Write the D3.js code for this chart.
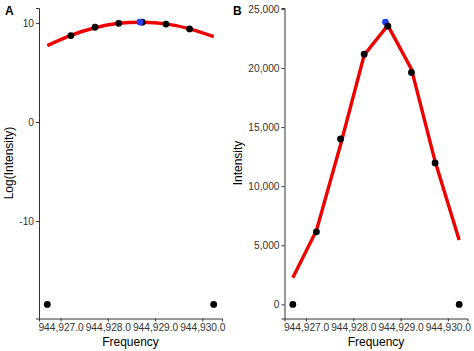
<!DOCTYPE html>
<html>
<head>
<meta charset="utf-8">
<script src="https://cdn.jsdelivr.net/npm/d3@7"></script>
<style>
  body { margin: 0; background: #fff; }
  text { font-family: "Liberation Sans", Arial, sans-serif; }
</style>
</head>
<body>
<svg id="chart" width="474" height="351"></svg>
<script>
// observed samples
const frequency = [944926.72, 944927.22, 944927.73, 944928.23, 944928.73, 944929.23, 944929.73, 944930.24];
const intensity = [0, 6140, 14000, 21170, 23540, 19620, 11970, 0];
const logIntensity = [-18.42, 8.72, 9.56, 9.96, 10.07, 9.88, 9.39, -18.42];

// fitted curve values at the sample frequencies
const fitLog = [7.71, 8.74, 9.51, 9.96, 10.07, 9.90, 9.40, 8.62];
const fitIntensity = [2250, 6250, 13500, 21100, 23600, 19900, 12100, 5450];

// fitted peak
const peakFrequency = 944928.68;
const peakLog = 10.08;
const peakIntensity = 23880;

const xTicks = [944927, 944928, 944929, 944930];
const yTicksA = [-10, 0, 10];
const yTicksB = [0, 5000, 10000, 15000, 20000, 25000];

const svg = d3.select("#chart");

function expand(ext) {
    const pad = (ext[1] - ext[0]) * 0.05;
    return [ext[0] - pad, ext[1] + pad];
}

function panel(opts) {
    const x = d3.scaleLinear().domain(expand(d3.extent(frequency))).range([opts.left, opts.right]);
    const y = d3.scaleLinear().domain(expand(opts.yExtent)).range([318.5, 8]);
    const g = svg.append("g");

    // axes
    const xa = g.append("g")
        .attr("transform", "translate(0,318.5)")
        .call(d3.axisBottom(x).tickValues(xTicks).tickFormat(d3.format(",.1f")).tickSizeOuter(0).tickSize(3).tickPadding(2.5));
    const ya = g.append("g")
        .attr("transform", `translate(${opts.left},0)`)
        .call(d3.axisLeft(y).tickValues(opts.yTicks).tickFormat(opts.yFormat).tickSizeOuter(0).tickSize(3).tickPadding(2));
    [xa, ya].forEach(a => {
        a.selectAll("text").attr("fill", "#333").style("font-size", "10.2px");
        a.selectAll("line").attr("stroke", "#333");
        a.select(".domain").attr("stroke", "#333").attr("stroke-width", 1);
    });

    // fitted line
    g.append("path")
        .datum(frequency.map((f, i) => [f, opts.fit[i]]))
        .attr("fill", "none")
        .attr("stroke", "#ee0000")
        .attr("stroke-width", 3.4)
        .attr("d", d3.line().x(d => x(d[0])).y(d => y(d[1])).curve(opts.curve));

    const pts = frequency.map((f, i) => ({f: f, v: opts.values[i]}));
    const drawPeak = () => g.append("circle")
        .attr("cx", x(peakFrequency)).attr("cy", y(opts.peak)).attr("r", 3.4)
        .attr("fill", "#2040ee");
    if (!opts.peakOnTop) drawPeak();
    g.selectAll(".pt").data(pts).enter().append("circle")
        .attr("class", "pt")
        .attr("cx", d => x(d.f)).attr("cy", d => y(d.v)).attr("r", 3.4)
        .attr("fill", "#000");
    if (opts.peakOnTop) drawPeak();

    // titles
    g.append("text")
        .attr("x", (opts.left + opts.right) / 2).attr("y", 346)
        .attr("text-anchor", "middle").style("font-size", "12px")
        .text("Frequency");
    g.append("text")
        .attr("transform", `translate(${opts.yTitleX},163) rotate(-90)`)
        .attr("text-anchor", "middle").style("font-size", "12px")
        .text(opts.yTitle);
    g.append("text")
        .attr("x", opts.tagX).attr("y", 15)
        .style("font-size", "12px").style("font-weight", "bold")
        .text(opts.tag);
}

panel({
    left: 39, right: 222,
    yExtent: [d3.min(logIntensity), peakLog],
    yTicks: yTicksA, yFormat: d => String(d),
    values: logIntensity, fit: fitLog, peak: peakLog,
    curve: d3.curveNatural, peakOnTop: true,
    yTitle: "Log(Intensity)", yTitleX: 13, tag: "A", tagX: 5
});

panel({
    left: 284.5, right: 467.5,
    yExtent: [0, peakIntensity],
    yTicks: yTicksB, yFormat: d3.format(","),
    values: intensity, fit: fitIntensity, peak: peakIntensity,
    curve: d3.curveLinear, peakOnTop: false,
    yTitle: "Intensity", yTitleX: 242, tag: "B", tagX: 233
});
</script>
</body>
</html>
